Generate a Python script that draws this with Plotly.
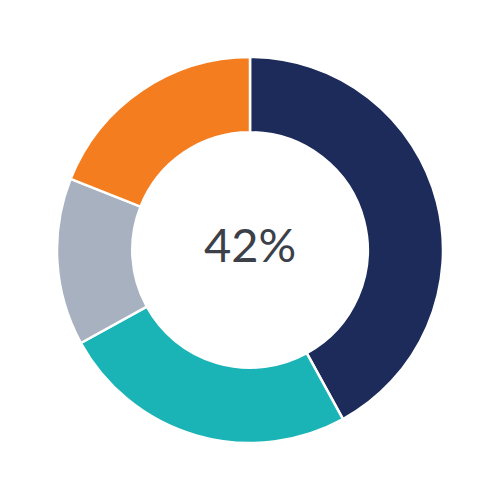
import plotly.graph_objects as go

labels = ["A", "B", "C", "D"]
values = [42, 25, 14, 19]
colors = ["#1C2B59", "#1BB4B6", "#A7B1C0", "#F47D20"]
center_text = "42%"

fig = go.Figure(go.Pie(
    labels=labels,
    values=values,
    hole=0.61,
    sort=False,
    direction="clockwise",
    rotation=0,
    marker=dict(colors=colors, line=dict(color="white", width=2.5)),
    textinfo="none",
    hoverinfo="label+percent",
    showlegend=False,
))
fig.add_annotation(text=center_text, x=0.5, y=0.5, xref="paper", yref="paper",
                   yshift=6, showarrow=False,
                   font=dict(family="Lato", size=47, color="#3B4049"))
fig.update_layout(width=500, height=500, margin=dict(l=49, r=65, t=49, b=65),
                  paper_bgcolor="white", plot_bgcolor="white")
fig.write_html("out.html")
